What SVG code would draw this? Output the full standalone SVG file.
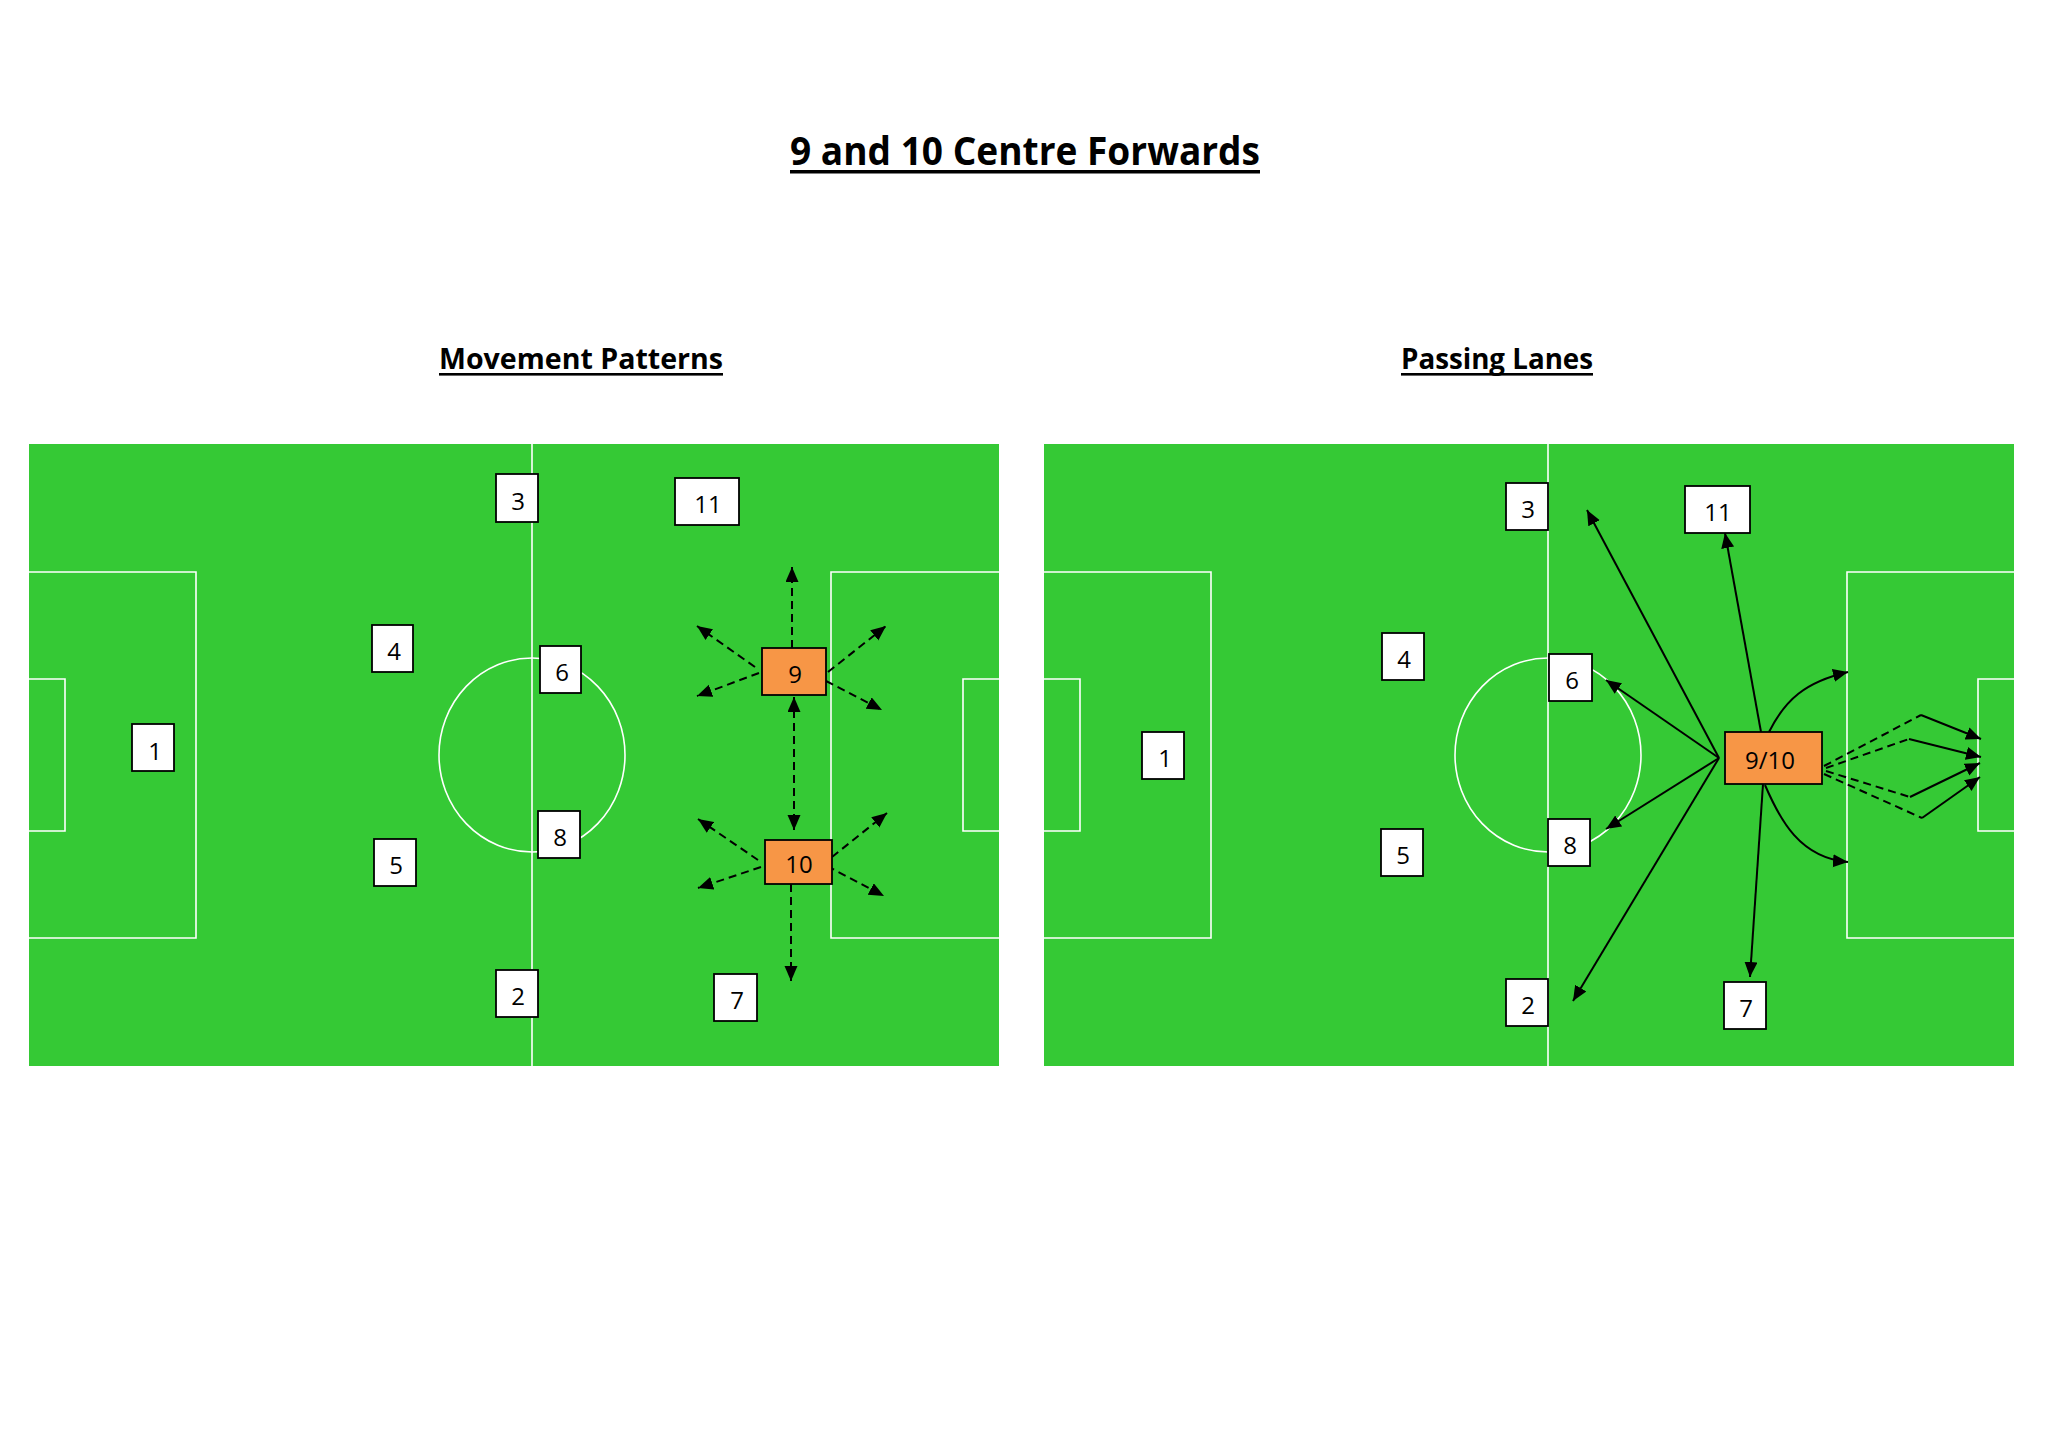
<svg xmlns="http://www.w3.org/2000/svg" width="2048" height="1448" viewBox="0 0 2048 1448">
<defs>
<style>
.pitch{fill:#35C935}
.ln{fill:none;stroke:#ffffff;stroke-width:1.6}
.box{fill:#ffffff;stroke:#000000;stroke-width:1.8}
.obox{fill:#F79646;stroke:#000000;stroke-width:1.8}
.lbl{font-family:"Open Sans","Liberation Sans",sans-serif;font-size:24px;fill:#000;text-anchor:middle}
.ttl{font-family:"Open Sans","Liberation Sans",sans-serif;font-weight:bold;fill:#000;text-anchor:middle}
.arr{fill:none;stroke:#000;stroke-width:2;marker-end:url(#ah)}
.dash{stroke-dasharray:8 5}
.plain{fill:none;stroke:#000;stroke-width:2}
</style>
<marker id="ah" markerUnits="userSpaceOnUse" markerWidth="16" markerHeight="14" refX="15" refY="6.5" orient="auto-start-reverse">
<path d="M0,0 L15,6.5 L0,13 z" fill="#000"/>
</marker>
</defs>
<rect width="2048" height="1448" fill="#ffffff"/>

<g id="titles">
<text class="ttl" x="1025" y="165" font-size="39" textLength="470" lengthAdjust="spacingAndGlyphs">9 and 10 Centre Forwards</text>
<rect x="790" y="170" width="470" height="3.5" fill="#000"/>
<text class="ttl" x="581" y="369" font-size="28" textLength="284" lengthAdjust="spacingAndGlyphs">Movement Patterns</text>
<rect x="439" y="373" width="284" height="2.6" fill="#000"/>
<text class="ttl" x="1497" y="369" font-size="28" textLength="192" lengthAdjust="spacingAndGlyphs">Passing Lanes</text>
<rect x="1401" y="373" width="192" height="2.6" fill="#000"/>
</g>

<g id="pitch-left">
<rect class="pitch" x="29" y="444" width="970" height="622"/>
<line class="ln" x1="532" y1="444" x2="532" y2="1066"/>
<ellipse class="ln" cx="532" cy="755" rx="93" ry="97"/>
<polyline class="ln" points="29,572 196,572 196,938 29,938"/>
<polyline class="ln" points="29,679 65,679 65,831 29,831"/>
<polyline class="ln" points="999,572 831,572 831,938 999,938"/>
<polyline class="ln" points="999,679 963,679 963,831 999,831"/>
</g>

<g id="pitch-right">
<rect class="pitch" x="1044" y="444" width="970" height="622"/>
<line class="ln" x1="1548" y1="444" x2="1548" y2="1066"/>
<ellipse class="ln" cx="1548" cy="755" rx="93" ry="97"/>
<polyline class="ln" points="1044,572 1211,572 1211,938 1044,938"/>
<polyline class="ln" points="1044,679 1080,679 1080,831 1044,831"/>
<polyline class="ln" points="2014,572 1847,572 1847,938 2014,938"/>
<polyline class="ln" points="2014,679 1978,679 1978,831 2014,831"/>
</g>

<g id="connectors">
<path class="arr dash" d="M792,648 L792,567"/>
<path class="arr dash" d="M755,667 L697,626"/>
<path class="arr dash" d="M759,673 L697,696"/>
<path class="arr dash" d="M828,672 L886,626"/>
<path class="arr dash" d="M826,681 L882,710"/>
<path class="arr dash" d="M794,697 L794,830" marker-start="url(#ah)"/>
<path class="arr dash" d="M758,860 L698,819"/>
<path class="arr dash" d="M761,867 L698,888"/>
<path class="arr dash" d="M832,857 L887,813"/>
<path class="arr dash" d="M827,866 L884,896"/>
<path class="arr dash" d="M791,884 L791,981"/>

<path class="arr" d="M1719,758 L1587,510"/>
<path class="arr" d="M1719,758 L1606,680"/>
<path class="arr" d="M1719,758 L1606,829"/>
<path class="arr" d="M1719,758 L1573,1001"/>
<path class="arr" d="M1761,732 L1725,533"/>
<path class="arr" d="M1763,784 L1750,977"/>
<path class="arr" d="M1769,732 C1785,700 1805,682 1848,672"/>
<path class="arr" d="M1765,785 C1780,820 1800,858 1848,862"/>
<path class="plain dash" d="M1824,766 L1921,715"/>
<path class="arr" d="M1921,715 L1981,739"/>
<path class="plain dash" d="M1826,768 L1909,739"/>
<path class="arr" d="M1909,739 L1981,757"/>
<path class="plain dash" d="M1826,771 L1910,797"/>
<path class="arr" d="M1910,797 L1980,763"/>
<path class="plain dash" d="M1824,774 L1922,818"/>
<path class="arr" d="M1922,818 L1980,777"/>
</g>

<g id="L-n1"><rect class="box" x="132" y="724" width="42" height="47"/><text class="lbl" x="155" y="760">1</text></g>
<g id="L-n2"><rect class="box" x="496" y="970" width="42" height="47"/><text class="lbl" x="518" y="1005">2</text></g>
<g id="L-n3"><rect class="box" x="496" y="474" width="42" height="48"/><text class="lbl" x="518" y="510">3</text></g>
<g id="L-n4"><rect class="box" x="372" y="625" width="41" height="47"/><text class="lbl" x="394" y="660">4</text></g>
<g id="L-n5"><rect class="box" x="374" y="839" width="42" height="47"/><text class="lbl" x="396" y="874">5</text></g>
<g id="L-n6"><rect class="box" x="540" y="646" width="41" height="47"/><text class="lbl" x="562" y="681">6</text></g>
<g id="L-n7"><rect class="box" x="714" y="974" width="43" height="47"/><text class="lbl" x="737" y="1009">7</text></g>
<g id="L-n8"><rect class="box" x="538" y="811" width="42" height="47"/><text class="lbl" x="560" y="846">8</text></g>
<g id="L-n11"><rect class="box" x="675" y="478" width="64" height="47"/><text class="lbl" x="708" y="513">11</text></g>
<g id="L-n9"><rect class="obox" x="762" y="648" width="64" height="47"/><text class="lbl" x="795" y="683">9</text></g>
<g id="L-n10"><rect class="obox" x="765" y="840" width="67" height="44"/><text class="lbl" x="799" y="873">10</text></g>

<g id="R-n1"><rect class="box" x="1142" y="732" width="42" height="47"/><text class="lbl" x="1165" y="767">1</text></g>
<g id="R-n2"><rect class="box" x="1506" y="979" width="42" height="47"/><text class="lbl" x="1528" y="1014">2</text></g>
<g id="R-n3"><rect class="box" x="1506" y="483" width="42" height="47"/><text class="lbl" x="1528" y="518">3</text></g>
<g id="R-n4"><rect class="box" x="1382" y="633" width="42" height="47"/><text class="lbl" x="1404" y="668">4</text></g>
<g id="R-n5"><rect class="box" x="1381" y="829" width="42" height="47"/><text class="lbl" x="1403" y="864">5</text></g>
<g id="R-n6"><rect class="box" x="1549" y="654" width="43" height="47"/><text class="lbl" x="1572" y="689">6</text></g>
<g id="R-n7"><rect class="box" x="1724" y="982" width="42" height="47"/><text class="lbl" x="1746" y="1017">7</text></g>
<g id="R-n8"><rect class="box" x="1548" y="819" width="42" height="47"/><text class="lbl" x="1570" y="854">8</text></g>
<g id="R-n11"><rect class="box" x="1685" y="486" width="65" height="47"/><text class="lbl" x="1718" y="521">11</text></g>
<g id="R-n910"><rect class="obox" x="1725" y="732" width="97" height="52"/><text class="lbl" x="1770" y="769">9/10</text></g>
</svg>
